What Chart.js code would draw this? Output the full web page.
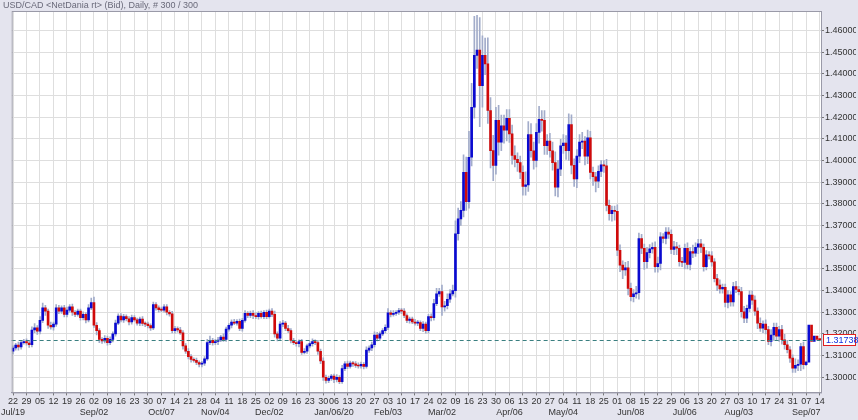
<!DOCTYPE html>
<html>
<head>
<meta charset="utf-8">
<script src="https://cdn.jsdelivr.net/npm/chart.js@4.4.1/dist/chart.umd.min.js"></script>
<style>
  html, body { margin: 0; padding: 0; background: #e4e4ee; }
  canvas { display: block; }
</style>
</head>
<body>
<canvas id="chart" width="858" height="420"></canvas>
<script>
// daily closes, one row per week (Mon..Fri), Jul 22 2019 .. Sep 14 2020
var closes = [
  1.3135,1.3148,1.3140,1.3160,1.3165,
  1.3158,1.3150,1.3218,1.3228,1.3212,
  1.3262,1.3320,1.3305,1.3240,1.3232,
  1.3245,1.3320,1.3305,1.3320,1.3290,
  1.3310,1.3325,1.3300,1.3290,1.3305,
  1.3275,1.3290,1.3265,1.3320,1.3345,
  1.3240,1.3215,1.3175,1.3168,1.3180,
  1.3160,1.3175,1.3200,1.3250,1.3282,
  1.3265,1.3280,1.3270,1.3255,1.3275,
  1.3265,1.3250,1.3268,1.3248,1.3245,
  1.3238,1.3228,1.3335,1.3320,1.3312,
  1.3310,1.3325,1.3300,1.3292,1.3215,
  1.3225,1.3218,1.3205,1.3145,1.3120,
  1.3095,1.3082,1.3078,1.3068,1.3060,
  1.3065,1.3085,1.3160,1.3170,1.3160,
  1.3165,1.3172,1.3185,1.3175,1.3222,
  1.3240,1.3255,1.3250,1.3258,1.3225,
  1.3262,1.3295,1.3285,1.3295,1.3285,
  1.3280,1.3295,1.3280,1.3300,1.3280,
  1.3305,1.3290,1.3200,1.3180,1.3245,
  1.3250,1.3225,1.3215,1.3170,1.3160,
  1.3155,1.3165,1.3115,1.3120,1.3145,
  1.3155,1.3165,1.3160,1.3120,1.3075,
  1.3000,1.2985,1.2995,1.3005,
  1.2990,1.3000,1.2980,1.3040,1.3062,
  1.3050,1.3065,1.3062,1.3055,1.3052,
  1.3060,1.3050,1.3125,1.3135,1.3150,
  1.3195,1.3180,1.3200,1.3215,1.3230,
  1.3297,1.3290,1.3295,1.3300,1.3308,
  1.3305,1.3285,1.3262,1.3268,1.3255,
  1.3250,1.3252,1.3225,1.3245,1.3215,
  1.3280,1.3275,1.3340,1.3385,1.3395,
  1.3325,1.3330,1.3360,1.3385,1.3400,
  1.3662,1.3731,1.3770,1.3946,1.3810,
  1.4015,1.4246,1.4485,1.4510,1.4346,
  1.4485,1.4446,1.4231,1.4046,1.3977,
  1.4185,1.4085,1.4160,1.4140,1.4195,
  1.4123,1.4023,1.4005,1.3990,1.3946,
  1.3880,1.3888,1.4120,1.4045,1.4000,
  1.4130,1.4190,1.4185,1.4068,1.4090,
  1.4045,1.3990,1.3877,1.3960,1.4068,
  1.4080,1.4045,1.4166,1.3978,1.3915,
  1.4020,1.4085,1.4090,1.4020,1.4105,
  1.3945,1.3925,1.3905,1.3950,1.3980,
  1.3975,1.3793,1.3755,1.3770,1.3765,
  1.3586,1.3517,1.3495,1.3505,1.3410,
  1.3372,1.3385,1.3390,1.3640,1.3595,
  1.3533,1.3575,1.3592,1.3600,1.3510,
  1.3525,1.3648,1.3640,1.3670,1.3660,
  1.3590,1.3602,1.3595,1.3533,1.3530,
  1.3595,1.3520,1.3580,1.3572,1.3600,
  1.3616,1.3600,1.3510,1.3565,1.3560,
  1.3532,1.3455,1.3425,1.3408,1.3415,
  1.3345,1.3380,1.3348,1.3418,1.3405,
  1.3395,1.3302,1.3272,1.3318,1.3379,
  1.3356,1.3305,1.3249,1.3226,1.3245,
  1.3220,1.3165,1.3195,1.3230,1.3190,
  1.3220,1.3173,1.3150,1.3127,1.3088,
  1.3042,1.3055,1.3060,1.3142,1.3058,
  1.3070,1.3241,1.3165,1.3190,1.3175,
  1.31738
];
var firstOpen = 1.3120;

// wick length above / below the body, in pips
var upWick = [
  10,8,14,8,10,  12,10,15,20,10,  18,22,12,10,14,  10,15,12,10,12,
  14,10,12,8,10,  10,12,8,15,20,  25,12,10,8,12,  10,12,10,14,10,
  12,10,8,10,12,  10,8,10,12,8,  10,8,12,10,10,  12,10,10,8,12,
  10,8,12,10,10,  12,10,8,10,8,  8,10,15,20,10,  10,12,8,15,10,
  8,10,12,8,10,  10,12,8,10,12,  12,8,10,8,10,  10,12,15,10,12,
  12,8,15,10,10,  10,8,10,12,8,  10,12,8,10,10,  15,10,10,8,
  10,12,8,15,10,  12,10,8,10,12,  10,8,15,10,12,  15,12,10,10,12,
  20,10,12,8,10,  10,12,8,10,10,  12,10,8,12,10,  10,12,20,25,15,
  30,20,25,20,25,  60,50,40,80,70,  120,110,180,160,150,  90,80,120,60,70,
  60,70,50,50,40,  40,40,45,30,30,  30,60,60,50,40,  40,60,40,45,30,
  35,40,50,40,30,  40,35,50,45,30,  30,35,40,20,35,  30,25,20,25,20,
  20,30,25,20,20,  30,25,20,25,30,  25,20,30,25,20,  20,25,20,20,25,
  30,20,15,20,20,  20,25,20,15,20,  20,25,20,30,20,  20,20,15,20,15,
  20,15,20,25,15,  15,20,15,20,25,  15,20,25,15,20,  20,20,15,25,15,
  20,15,25,20,20,  15,20,25,20,15,  15,30,20,15,20,
  5
];
var dnWick = [
  12,10,15,10,8,  10,12,10,12,15,  12,10,20,15,10,  15,10,12,10,12,
  12,10,15,10,8,  12,10,14,10,8,  10,20,15,12,10,  12,10,12,10,8,
  10,12,10,14,10,  8,10,12,10,12,  10,12,8,10,12,  8,10,12,10,10,
  12,10,8,15,10,  10,12,8,10,12,  12,10,8,10,12,  10,15,8,10,10,
  10,12,8,10,10,  12,8,10,10,15,  10,12,8,10,10,  8,10,15,12,10,
  12,10,8,12,10,  12,15,10,8,10,  10,12,10,15,12,  15,12,10,10,
  15,12,10,8,10,  10,8,12,10,10,  10,12,8,10,12,  10,12,10,8,10,
  10,12,8,10,10,  12,10,10,12,8,  10,12,10,15,12,  10,15,12,10,12,
  40,20,15,15,10,  30,30,30,30,40,  30,40,50,60,190,  100,50,60,80,70,
  40,60,40,60,50,  40,40,35,40,30,  40,40,30,30,40,  30,50,50,40,40,
  30,35,40,45,30,  35,40,45,40,35,  40,30,30,40,35,  30,40,50,30,25,
  30,25,30,35,40,  25,30,40,25,30,  20,25,20,30,25,  35,30,25,20,25,
  25,30,20,25,20,  20,25,30,20,20,  30,20,25,20,15,  30,25,20,15,15,
  20,15,25,20,20,  20,25,20,20,15,  15,25,20,20,15,  20,20,25,15,20,
  20,15,20,25,20,  25,20,20,15,20,  20,20,25,30,20,
  5
];

var yTicks = [1.30,1.31,1.32,1.33,1.34,1.35,1.36,1.37,1.38,1.39,1.40,1.41,1.42,1.43,1.44,1.45,1.46];
var monthMarks = { '2019-07-22':'Jul/19', '2019-09-02':'Sep/02', '2019-10-07':'Oct/07', '2019-11-04':'Nov/04',
  '2019-12-02':'Dec/02', '2020-01-06':'Jan/06/20', '2020-02-03':'Feb/03', '2020-03-02':'Mar/02',
  '2020-04-06':'Apr/06', '2020-05-04':'May/04', '2020-06-08':'Jun/08', '2020-07-06':'Jul/06',
  '2020-08-03':'Aug/03', '2020-09-07':'Sep/07' };
var lastPrice = 1.31738;
var skipDays = ['2020-01-01'];

var pad = function(n){ return (n < 10 ? '0' : '') + n; };
var iso = function(d){ return d.getUTCFullYear() + '-' + pad(d.getUTCMonth()+1) + '-' + pad(d.getUTCDate()); };

var dates = [];
var d = new Date(Date.UTC(2019, 6, 22));
while (dates.length < closes.length) {
    var wd = d.getUTCDay();
    if (wd !== 0 && wd !== 6 && skipDays.indexOf(iso(d)) < 0) dates.push(new Date(d));
    d.setUTCDate(d.getUTCDate() + 1);
}
var labels = dates.map(iso);

var opens = closes.map(function(c, i){ return i === 0 ? firstOpen : closes[i-1]; });
var highs = closes.map(function(c, i){ return Math.max(opens[i], c) + upWick[i] / 10000; });
var lows  = closes.map(function(c, i){ return Math.min(opens[i], c) - dnWick[i] / 10000; });
var isMonday = function(i){ return dates[i] && dates[i].getUTCDay() === 1; };

var frame = {
    id: 'frame',
    beforeDraw: function(chart){
        var ctx = chart.ctx, a = chart.chartArea;
        ctx.save();
        ctx.fillStyle = '#e4e4ee';
        ctx.fillRect(0, 0, chart.width, chart.height);
        ctx.fillStyle = '#ffffff';
        ctx.fillRect(a.left, a.top, a.right - a.left, a.bottom - a.top);
        ctx.fillStyle = '#6a6a7a';
        ctx.font = '9px "Liberation Sans", Arial, sans-serif';
        ctx.textBaseline = 'middle';
        ctx.fillText('USD/CAD <NetDania rt> (Bid), Daily, # 300 / 300', 3, 6);
        ctx.restore();
    },
    afterDatasetsDraw: function(chart){
        var ctx = chart.ctx, a = chart.chartArea;
        var y = Math.round(chart.scales.y.getPixelForValue(lastPrice)) + 0.5;
        ctx.save();
        ctx.strokeStyle = '#3a7f80';
        ctx.setLineDash([4, 3]);
        ctx.lineWidth = 1;
        ctx.beginPath();
        ctx.moveTo(a.left, y);
        ctx.lineTo(a.right, y);
        ctx.stroke();
        ctx.setLineDash([]);
        ctx.strokeStyle = '#9a9aa8';
        ctx.strokeRect(a.left + 0.5, a.top + 0.5, a.right - a.left, a.bottom - a.top);
        ctx.restore();
    },
    afterDraw: function(chart){
        var ctx = chart.ctx, a = chart.chartArea;
        var y = Math.round(chart.scales.y.getPixelForValue(lastPrice));
        ctx.save();
        ctx.fillStyle = '#ffffff';
        ctx.fillRect(a.right + 2, y - 6, 33, 12);
        ctx.strokeStyle = '#e02020';
        ctx.strokeRect(a.right + 2.5, y - 5.5, 32, 11);
        ctx.fillStyle = '#1030e0';
        ctx.font = '9px "Liberation Sans", Arial, sans-serif';
        ctx.textBaseline = 'middle';
        ctx.fillText(lastPrice.toFixed(5), a.right + 5, y + 0.5);
        ctx.restore();
    }
};

new Chart(document.getElementById('chart'), {
    type: 'bar',
    data: {
        labels: labels,
        datasets: [
            {
                label: 'range',
                data: lows.map(function(l, i){ return [l, highs[i]]; }),
                backgroundColor: '#a2acca',
                barThickness: 1,
                grouped: false,
                order: 2
            },
            {
                label: 'body',
                data: opens.map(function(o, i){ return [o, closes[i]]; }),
                backgroundColor: closes.map(function(c, i){ return c >= opens[i] ? '#0a0ad0' : '#d00a0a'; }),
                barThickness: 2,
                minBarLength: 1,
                grouped: false,
                order: 1
            }
        ]
    },
    options: {
        responsive: false,
        animation: false,
        layout: { padding: { top: 11, left: 6, right: 2, bottom: 1 } },
        plugins: { legend: { display: false }, tooltip: { enabled: false } },
        scales: {
            x: {
                offset: true,
                grid: {
                    offset: false,
                    color: function(ctx){ return isMonday(ctx.index) ? '#dedede' : 'rgba(0,0,0,0)'; },
                    tickColor: function(ctx){ return isMonday(ctx.index) ? '#777' : 'rgba(0,0,0,0)'; },
                    tickLength: 3
                },
                border: { color: '#9a9aa8' },
                ticks: {
                    autoSkip: false,
                    maxRotation: 0,
                    padding: 1,
                    color: '#333',
                    font: { size: 9, family: '"Liberation Sans", Arial, sans-serif' },
                    callback: function(v, i){
                        if (!isMonday(i)) return '';
                        var day = pad(dates[i].getUTCDate());
                        var m = monthMarks[labels[i]];
                        return m ? [day, m] : day;
                    }
                }
            },
            y: {
                position: 'right',
                min: 1.293,
                max: 1.469,
                afterBuildTicks: function(axis){ axis.ticks = yTicks.map(function(v){ return { value: v }; }); },
                afterFit: function(axis){ axis.width = 35; },
                grid: { color: '#dedede', tickColor: '#777', tickLength: 3 },
                border: { color: '#9a9aa8' },
                ticks: {
                    padding: 1,
                    color: '#333',
                    font: { size: 9, family: '"Liberation Sans", Arial, sans-serif' },
                    callback: function(v){ return v.toFixed(5); }
                }
            }
        }
    },
    plugins: [frame]
});
</script>
</body>
</html>
